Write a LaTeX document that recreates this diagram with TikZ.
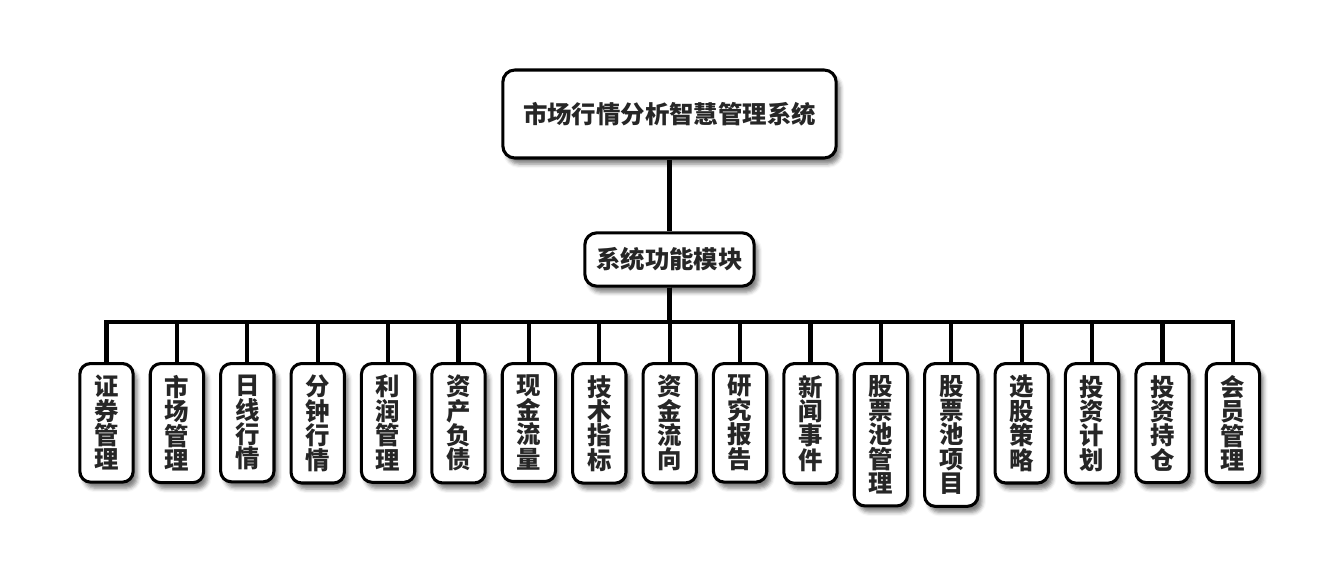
\documentclass[tikz,border=0pt]{standalone}
\usepackage{fontspec}
\setmainfont{Noto Sans CJK SC}
\usetikzlibrary{shadows.blur}
\definecolor{boxtext}{RGB}{38,38,38}
\tikzset{
  box/.style={draw=black, fill=white, line width=2.3pt, rounded corners=9pt, text=boxtext,
    font=\fontsize{18.3}{18.3}\selectfont\bfseries,
    blur shadow={shadow xshift=3pt, shadow yshift=-4.5pt, shadow blur radius=3pt, shadow opacity=50}},
  leafbox/.style={box, anchor=north, minimum width=40pt, text width=18.5pt, align=center,
    inner xsep=0pt, inner ysep=8.7pt, rounded corners=8pt},
  wire/.style={line width=3.1pt}
}

\begin{document}
\begin{tikzpicture}[x=0.75pt, y=-0.75pt]
\useasboundingbox (0,0) rectangle (1339,583);
% top level
\node[box, minimum width=250pt, minimum height=66pt] (sys) at (669.5,114) {市场行情分析智慧管理系统};
\node[box, minimum width=127pt, minimum height=40pt] (mod) at (669.5,259.5) {系统功能模块};
\coordinate (bus) at (669.5,322);
\draw[wire] (sys.south) -- (mod.north);
% function modules
\foreach \txt [count=\i] in {证\\券\\管\\理, 市\\场\\管\\理, 日\\线\\行\\情, 分\\钟\\行\\情,
    利\\润\\管\\理, 资\\产\\负\\债, 现\\金\\流\\量, 技\\术\\指\\标, 资\\金\\流\\向,
    研\\究\\报\\告, 新\\闻\\事\\件, 股\\票\\池\\管\\理, 股\\票\\池\\项\\目,
    选\\股\\策\\略, 投\\资\\计\\划, 投\\资\\持\\仓, 会\\员\\管\\理} {
  \node[leafbox] (leaf\i) at ({106.5+(\i-1)*70.4},362) {\txt};
  \draw[wire] (mod.south) -- (bus) -| (leaf\i.north);
}
\end{tikzpicture}
\end{document}
